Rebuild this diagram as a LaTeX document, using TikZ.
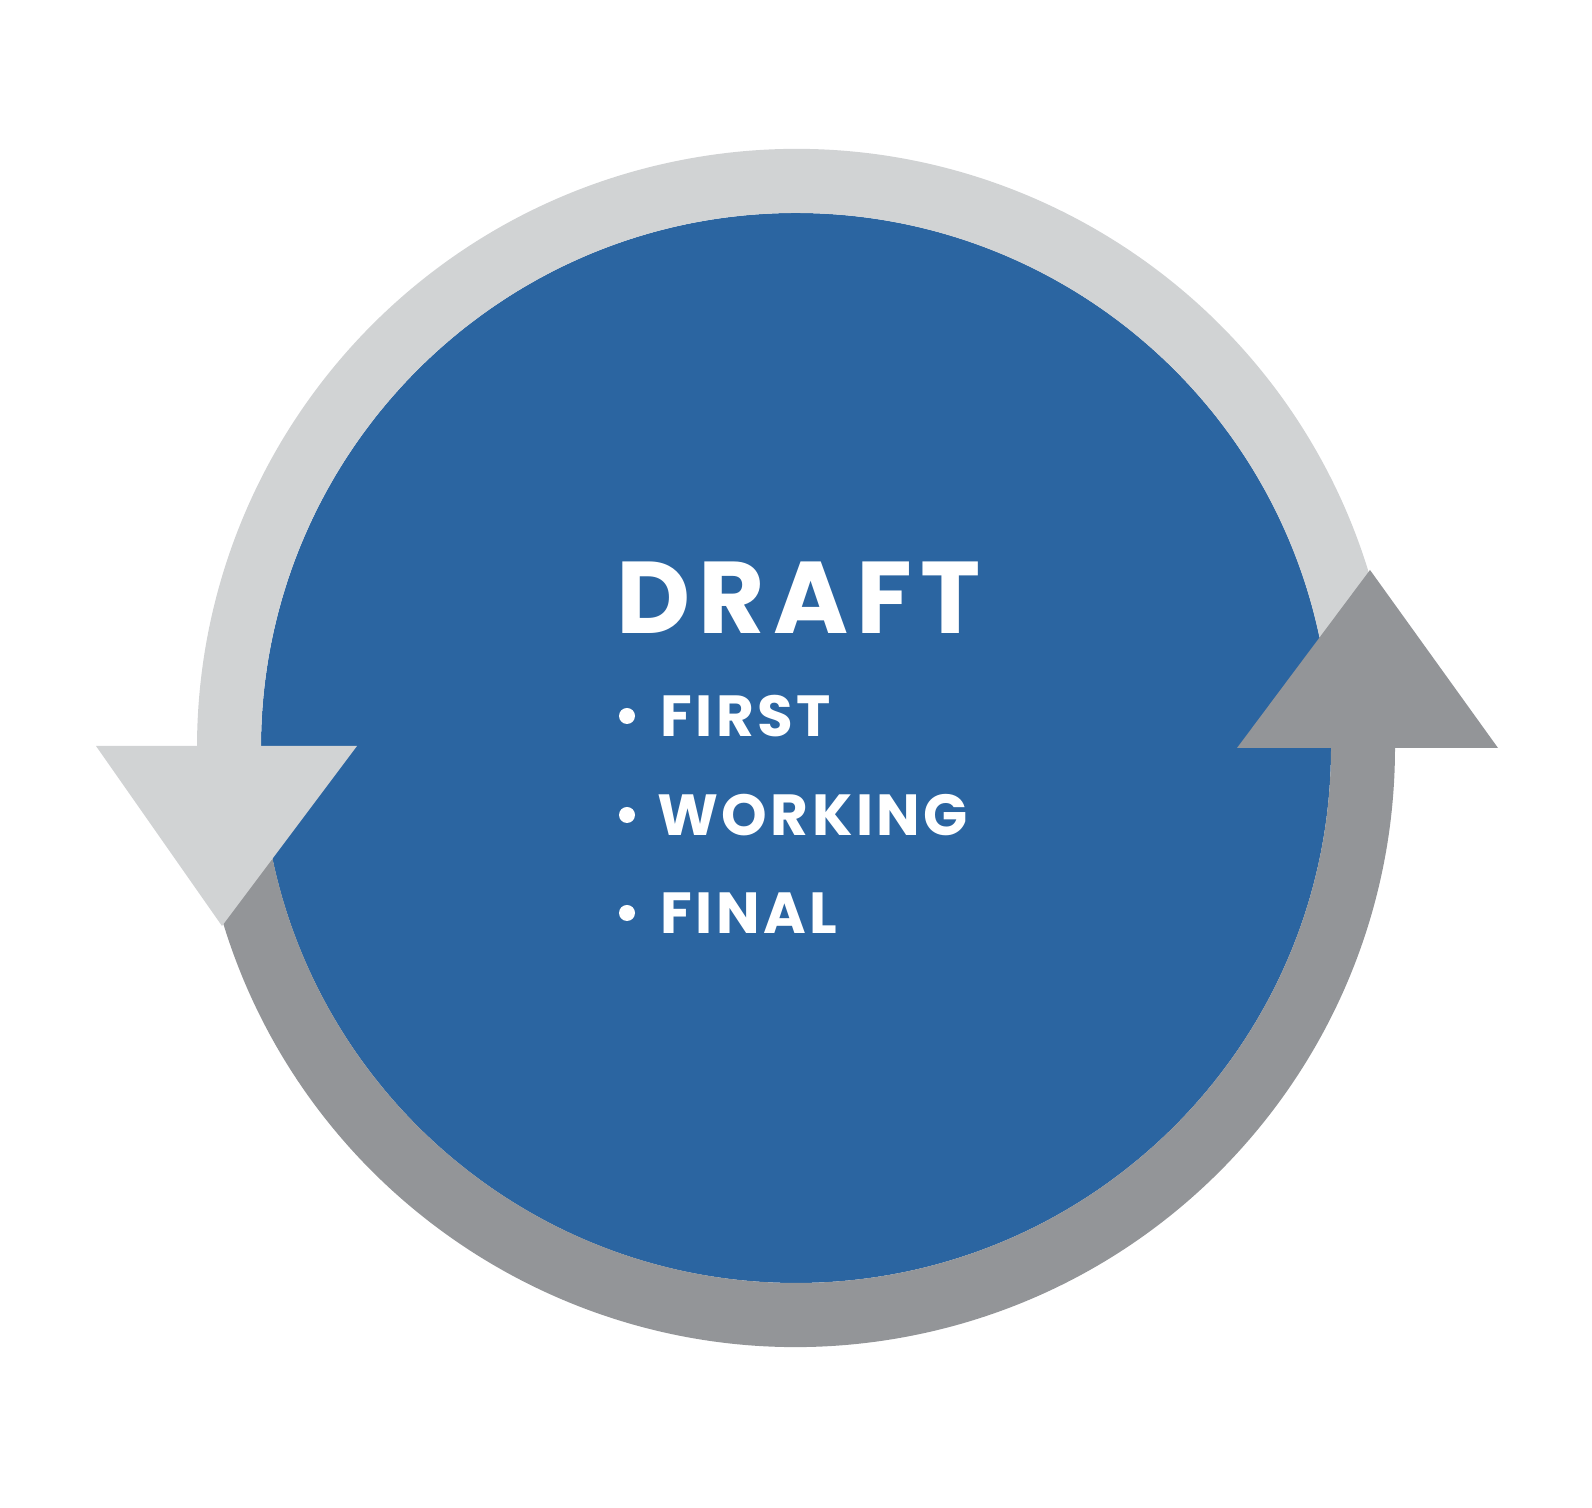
\documentclass[tikz,border=0pt]{standalone}
\usepackage{fontspec}
\setmainfont{Poppins}[BoldFont={* Bold}]
\newfontfamily\titlefont{Poppins}[BoldFont={* Bold},LetterSpace=8]
\newfontfamily\itemfont{Poppins}[BoldFont={* Bold},LetterSpace=6]
\usetikzlibrary{calc}
\definecolor{blueC}{HTML}{2B65A1}
\definecolor{lightG}{HTML}{D1D3D4}
\definecolor{darkG}{HTML}{939598}
\tikzset{
  item/.style={anchor=base west,inner sep=0pt,text=white,font=\itemfont\fontsize{29}{29}\selectfont\bfseries},
  title/.style={anchor=base west,inner sep=0pt,text=white,font=\titlefont\fontsize{51}{51}\selectfont\bfseries},
}
\begin{document}
\begin{tikzpicture}[x=0.5pt,y=0.5pt]
\useasboundingbox (0,0) rectangle (1592,1508);
\coordinate (c) at (796,760);
\fill[blueC] (c) circle[radius=535];
\fill[lightG] ($(c)+(12:599)$) arc[start angle=12,end angle=180,radius=599] -- ($(c)+(180:535)$) arc[start angle=180,end angle=12,radius=535] -- cycle;
\fill[darkG] ($(c)+(192:599)$) arc[start angle=192,end angle=360,radius=599] -- ($(c)+(0:535)$) arc[start angle=360,end angle=192,radius=535] -- cycle;
\fill[darkG] (1237,760) -- (1370,938) -- (1498,760) -- cycle;
\fill[lightG] (96,762) -- (222,582) -- (357,762) -- cycle;
\node[title] (draft) at (616,874) {DRAFT};
\fill[white] (627,792) circle[radius=8];
\fill[white] (627,693) circle[radius=8];
\fill[white] (627,595) circle[radius=8];
\node[item] (first) at (660,771) {FIRST};
\node[item] (working) at (657,672) {WORKING};
\node[item] (final) at (660,574) {FINAL};
\end{tikzpicture}
\end{document}
